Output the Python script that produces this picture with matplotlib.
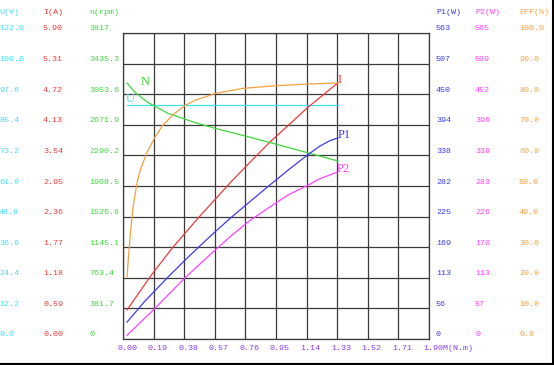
import numpy as np
import matplotlib
matplotlib.use('Agg')
import matplotlib.pyplot as plt
import matplotlib.transforms as mtransforms
from matplotlib.lines import Line2D

# torque axis (N.m)
x_ticks = ['0.00', '0.19', '0.38', '0.57', '0.76', '0.95', '1.14', '1.33', '1.52', '1.71', '1.90']
x_max = 1.90

# axis label columns (bottom -> top)
u_labels = ['0.0', '12.2', '24.4', '36.6', '48.8', '61.0', '73.2', '85.4', '97.6', '109.6', '122.0']
i_labels = ['0.00', '0.59', '1.18', '1.77', '2.36', '2.95', '3.54', '4.13', '4.72', '5.31', '5.90']
n_labels = ['0', '381.7', '763.4', '1145.1', '1526.8', '1908.5', '2290.2', '2671.9', '3053.6', '3435.3', '3817']
p1_labels = ['0', '56', '113', '169', '225', '282', '338', '394', '450', '507', '563']
p2_labels = ['0', '57', '113', '170', '226', '283', '339', '396', '452', '509', '565']
eff_labels = ['0.0', '10.0', '20.0', '30.0', '40.0', '50.0', '60.0', '70.0', '80.0', '90.0', '100.0']

# curves
eff_t = [0.025, 0.043, 0.062, 0.087, 0.106, 0.149, 0.199, 0.242, 0.310, 0.385, 0.447, 0.577, 0.745, 0.956, 1.149, 1.335]
eff_v = [20.3, 33.0, 43.0, 51.0, 55.0, 61.0, 66.0, 69.5, 73.3, 76.3, 78.0, 80.3, 81.9, 82.8, 83.3, 83.7]
n_t = [0.025, 0.075, 0.155, 0.279, 0.447, 0.577, 0.764, 0.913, 1.143, 1.335]
n_v = [3193, 3075, 2950, 2815, 2700, 2625, 2530, 2450, 2325, 2220]
u_t = [0.025, 1.335]
u_v = [93.3, 93.3]
i_t = [0.025, 0.180, 0.310, 0.466, 0.571, 0.677, 0.789, 0.913, 1.037, 1.149, 1.335]
i_v = [0.56, 1.25, 1.77, 2.33, 2.69, 3.05, 3.41, 3.80, 4.15, 4.47, 4.94]
p1_t = [0.025, 0.137, 0.186, 0.273, 0.385, 0.466, 0.571, 0.677, 0.789, 0.894, 1.018, 1.143, 1.223, 1.285, 1.335]
p1_v = [31, 70, 85, 112, 145, 168, 197, 225, 253, 279, 309, 338, 355, 365, 370]
p2_t = [0.025, 0.186, 0.385, 0.571, 0.677, 0.789, 0.913, 1.025, 1.149, 1.223, 1.329]
p2_v = [7, 53, 113, 164, 192, 219, 244, 266, 284, 296, 308]

c_u = '#3fe0f8'
c_i = '#ee3b3b'
c_n = '#3ed83e'
c_p1 = '#3c3cf0'
c_p2 = '#ff40ff'
c_eff = '#f5a040'
c_x = '#8a3cf5'

fig = plt.figure(figsize=(5.54, 3.65), dpi=100)
ax = fig.add_axes([123 / 554, 26 / 365, 306 / 554, 306 / 365])
ax.set_xlim(0, x_max)
ax.set_ylim(0, 1)
ax.set_xticks(np.linspace(0, x_max, 11))
ax.set_yticks(np.linspace(0, 1, 11))
ax.grid(color='#3a3a3a', linewidth=0.9)
ax.tick_params(length=0, labelbottom=False, labelleft=False)
for sp in ax.spines.values():
    sp.set_color('#3a3a3a')
    sp.set_linewidth(0.9)

mono = dict(family='Liberation Mono', fontsize=6)
# label columns: (x px, header, labels, color)
cols = [(-1, 'U(V)', u_labels, c_u), (43, 'I(A)', i_labels, c_i), (89, 'n(rpm)', n_labels, c_n),
        (436, 'P1(W)', p1_labels, c_p1), (475, 'P2(W)', p2_labels, c_p2), (519, 'EFF(%)', eff_labels, c_eff)]
trans = mtransforms.blended_transform_factory(fig.transFigure, ax.transAxes)
trans = mtransforms.offset_copy(trans, fig=fig, y=4, units='dots')
for xp, head, labs, col in cols:
    fig.text(xp / 554, 1 - 13 / 365, head, color=col, ha='left', va='center', **mono)
    for k, lab in enumerate(labs):
        ax.text(xp / 554, k / 10, lab, color=col, ha='left', va='center', transform=trans, clip_on=False, **mono)

xtrans = mtransforms.offset_copy(ax.get_xaxis_transform(), fig=fig, x=-6, y=-9, units='dots')
for k, lab in enumerate(x_ticks):
    if k == len(x_ticks) - 1:
        lab = lab + 'M(N.m)'
    ax.text(k * x_max / 10, 0, lab, color=c_x, ha='left', va='center', transform=xtrans, clip_on=False, **mono)

serif = dict(family='Liberation Serif', fontsize=9)
series = [(u_t, u_v, 122.0, c_u, 'U'), (i_t, i_v, 5.90, c_i, 'I'), (n_t, n_v, 3817, c_n, 'N'),
          (p1_t, p1_v, 563, c_p1, 'P1'), (p2_t, p2_v, 565, c_p2, 'P2'), (eff_t, eff_v, 100.0, c_eff, None)]
for t, v, vmax, col, name in series:
    a = ax.twinx()
    a.set_ylim(0, vmax)
    a.set_xlim(0, x_max)
    a.axis('off')
    a.plot(t, v, color=col, linewidth=0.9)
    if name == 'U':
        a.annotate(name, (t[0], v[0]), xytext=(-1, 0), textcoords='offset points', color=col,
                   ha='left', va='bottom', **serif)
    elif name == 'N':
        a.annotate(name, (t[0], v[0]), xytext=(13, 1), textcoords='offset points', color=col,
                   ha='center', va='center', **serif)
    elif name is not None:
        a.annotate(name, (t[-1], v[-1]), xytext=(0, 2), textcoords='offset points', color=col,
                   ha='left', va='center', **serif)

fig.add_artist(Line2D([0, 1], [1.5 / 365, 1.5 / 365], color='black', linewidth=1.5, transform=fig.transFigure))
fig.add_artist(Line2D([552.5 / 554, 552.5 / 554], [0, 1], color='black', linewidth=1.5, transform=fig.transFigure))

fig.savefig('out.png', dpi=100, facecolor='white')
